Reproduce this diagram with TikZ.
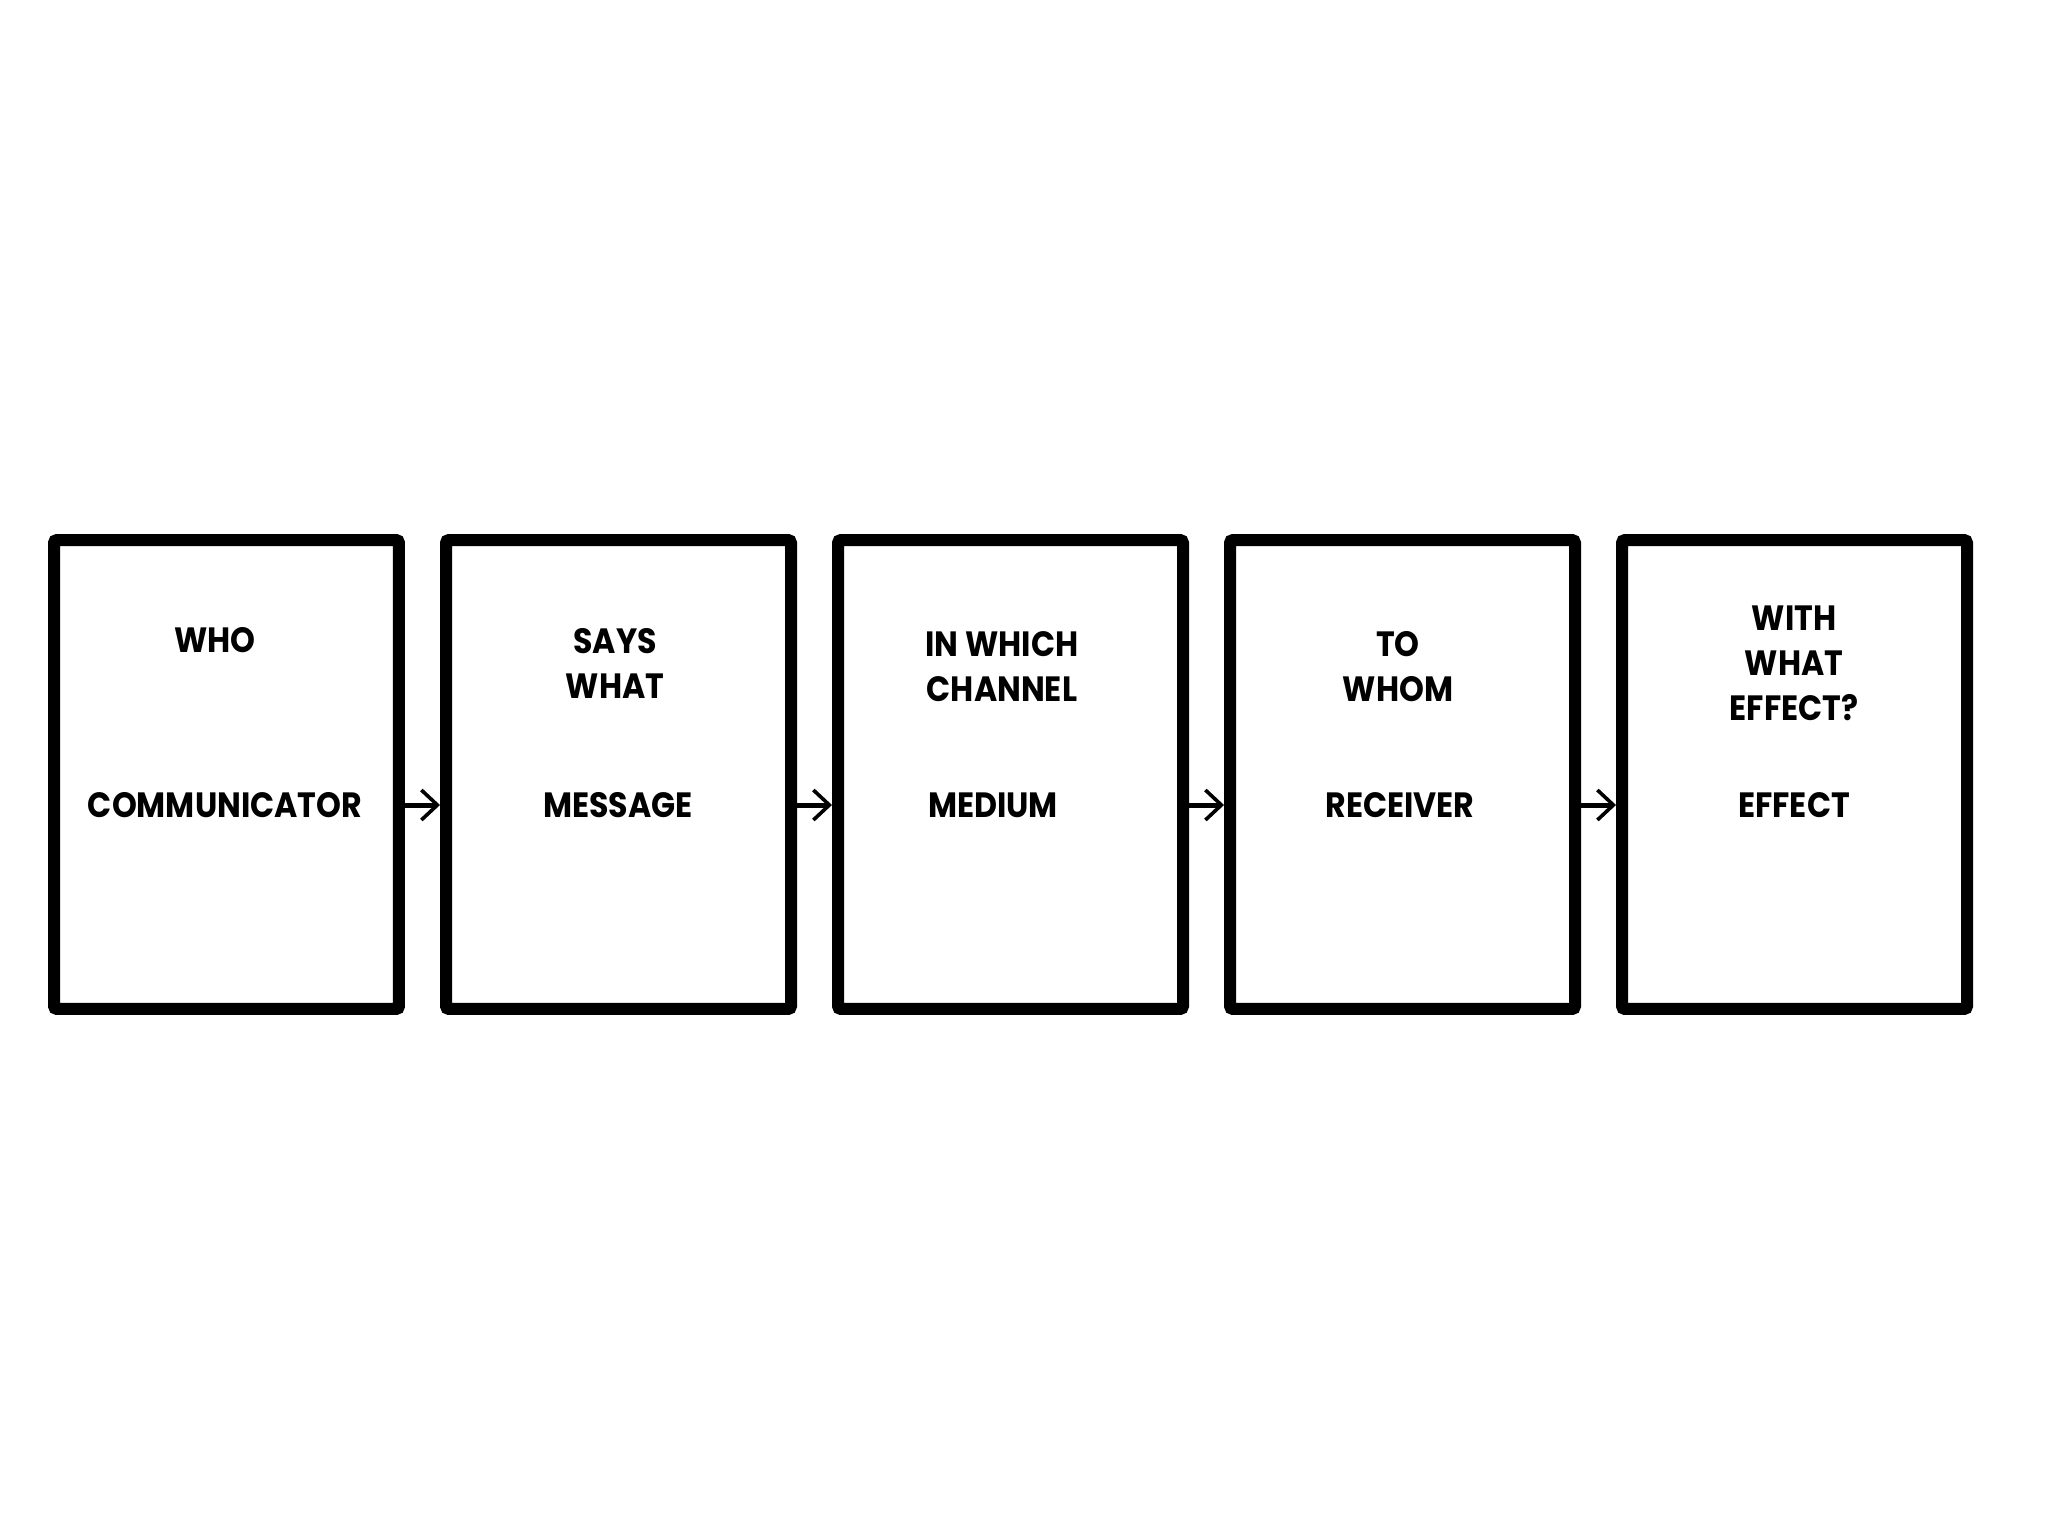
\documentclass[tikz,border=0pt]{standalone}
\usepackage{fontspec}
\setmainfont{Poppins}[FakeStretch=0.9]
\usetikzlibrary{arrows.meta,positioning}
\begin{document}
\begin{tikzpicture}[x=0.05cm,y=-0.05cm,
  stage/.style={draw=black,line width=0.6cm,rounded corners=0.15cm,minimum width=17.25cm,minimum height=23.45cm,inner sep=0pt,outer sep=0pt,fill=white},
  lbl/.style={font=\fontsize{50}{64}\selectfont\bfseries,align=center,inner sep=0pt},
  flow/.style={line width=0.25cm,-{Straight Barb[length=0.8cm,width=1.5cm,line width=0.18cm]},shorten >=0.3cm}]
\useasboundingbox (0,0) rectangle (2048,1536);
\foreach \i in {0,...,4}{
  \node[stage] (b\i) at ({226.5+392*\i},774.5) {};
}
\node[lbl] (t0a) at (215,640) {WHO};
\node[lbl] (t0b) at (225,805) {COMMUNICATOR};
\node[lbl] (t1a) at (615,663) {SAYS\\WHAT};
\node[lbl] (t1b) at (618,805) {MESSAGE};
\node[lbl] (t2a) at (1002,667) {IN WHICH\\CHANNEL};
\node[lbl] (t2b) at (993,805) {MEDIUM};
\node[lbl] (t3a) at (1398,667) {TO\\WHOM};
\node[lbl] (t3b) at (1400,805) {RECEIVER};
\node[lbl] (t4a) at (1794,663) {WITH\\WHAT\\EFFECT?};
\node[lbl] (t4b) at (1794,805) {EFFECT};
\foreach \i [evaluate=\i as \j using int(\i+1)] in {0,...,3}{
  \draw[flow] (b\i.east |- t\i b) -- (b\j.west |- t\i b);
}
\end{tikzpicture}
\end{document}
